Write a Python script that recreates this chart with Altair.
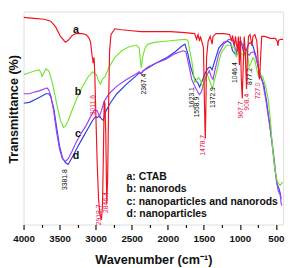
import altair as alt
import pandas as pd

# ---------------- data ----------------
X_TICKS = [4000, 3750, 3500, 3250, 3000, 2750, 2500, 2250, 2000, 1750,
           1500, 1250, 1000, 750, 500]

# a: CTAB (red)
a_wn = [4000, 3852, 3717, 3623, 3555, 3488, 3420, 3380, 3326, 3272,
        3191, 3137, 3097, 3070, 3050, 3035, 3022, 3012, 2998, 2980,
        2960, 2940, 2919, 2905, 2892, 2882, 2872, 2860, 2846, 2834,
        2820, 2807, 2787, 2733, 2639, 2504, 2369, 2167, 1964, 1762,
        1627, 1601, 1580, 1560, 1547, 1505, 1492, 1484, 1479, 1472,
        1462, 1440, 1412, 1385, 1372, 1331, 1223, 1142, 1115, 1102,
        1075, 1061, 1034, 1021, 1007, 994, 980, 967, 953, 940,
        926, 908, 895, 880, 859, 832, 819, 792, 765, 751,
        738, 727, 711, 697, 657, 576, 509, 482, 472, 462,
        428, 400]
a_t = [217, 216, 215, 213, 207, 197, 191, 193, 198, 200,
       200, 199, 196, 191, 177, 169, 175, 157, 117, 67,
       27, 10, 5, 22, 77, 129, 127, 97, 22, 47,
       127, 182, 199, 205, 204, 203, 202, 202, 202, 201,
       200, 194, 199, 192, 197, 185, 130, 100, 90, 120,
       175, 192, 197, 189, 197, 200, 200, 199, 192, 198,
       187, 197, 182, 197, 167, 197, 152, 132, 167, 197,
       182, 142, 177, 197, 199, 187, 197, 199, 192, 177,
       157, 152, 177, 197, 197, 195, 195, 192, 187, 193,
       194, 194]

# b: nanorods (green)
b_wn = [4000, 3919, 3838, 3784, 3757, 3744, 3717, 3690, 3650, 3609,
        3569, 3528, 3488, 3447, 3420, 3380, 3326, 3245, 3178, 3110,
        3043, 2989, 2962, 2935, 2908, 2868, 2814, 2733, 2639, 2544,
        2436, 2396, 2380, 2367, 2350, 2315, 2275, 2167, 2032, 1897,
        1762, 1722, 1695, 1668, 1641, 1627, 1601, 1574, 1547, 1520,
        1493, 1466, 1439, 1412, 1385, 1372, 1317, 1264, 1183, 1115,
        1075, 1048, 1021, 980, 940, 913, 886, 873, 846, 819,
        792, 765, 738, 711, 684, 643, 603, 576, 549, 522,
        495, 468, 441, 414, 400]
b_t = [157, 159, 161, 162, 159, 155, 159, 163, 161, 151,
       137, 122, 109, 102, 103, 109, 120, 135, 145, 154,
       160, 157, 151, 147, 152, 155, 165, 175, 182, 186,
       188, 185, 172, 164, 175, 185, 189, 191, 192, 193,
       194, 193, 182, 172, 157, 149, 151, 154, 151, 145,
       149, 157, 155, 149, 143, 145, 162, 179, 188, 187,
       185, 175, 182, 179, 177, 181, 175, 165, 169, 175,
       172, 162, 155, 157, 155, 145, 129, 109, 82, 62,
       49, 43, 41, 44, 44]

# c: nanoparticles and nanorods (purple)
c_wn = [4000, 3919, 3838, 3784, 3717, 3676, 3650, 3623, 3582, 3542,
        3501, 3461, 3420, 3380, 3326, 3272, 3205, 3137, 3070, 3016,
        2976, 2949, 2922, 2881, 2814, 2706, 2571, 2436, 2396, 2369,
        2342, 2275, 2167, 2032, 1897, 1789, 1749, 1708, 1668, 1627,
        1587, 1560, 1533, 1506, 1466, 1425, 1398, 1372, 1345, 1291,
        1223, 1156, 1102, 1075, 1048, 1021, 980, 940, 913, 873,
        846, 805, 778, 751, 724, 684, 643, 603, 563, 522,
        495, 468, 441, 428, 414]
c_t = [137, 137, 139, 140, 142, 143, 141, 135, 119, 97,
       79, 69, 66, 69, 77, 86, 95, 103, 113, 120,
       119, 113, 119, 129, 137, 145, 152, 158, 160, 158,
       161, 165, 169, 173, 179, 182, 181, 167, 152, 145,
       139, 136, 139, 147, 155, 161, 155, 152, 162, 179,
       189, 194, 193, 187, 180, 187, 190, 187, 182, 177,
       180, 181, 175, 167, 157, 149, 132, 112, 92, 67,
       47, 35, 31, 22, 20]

# d: nanoparticles (blue)
d_wn = [4000, 3919, 3838, 3757, 3690, 3650, 3623, 3582, 3542, 3501,
        3461, 3420, 3382, 3366, 3313, 3245, 3178, 3110, 3043, 3003,
        2976, 2949, 2922, 2895, 2868, 2800, 2706, 2571, 2436, 2396,
        2369, 2342, 2275, 2167, 2032, 1897, 1803, 1762, 1722, 1682,
        1641, 1601, 1580, 1558, 1520, 1479, 1439, 1412, 1385, 1358,
        1291, 1223, 1169, 1129, 1102, 1046, 1034, 1005, 985, 953,
        926, 899, 873, 846, 819, 778, 751, 711, 670, 630,
        590, 549, 509, 482, 455, 441, 428]
d_t = [127, 128, 131, 134, 137, 137, 134, 122, 102, 82,
       70, 65, 63, 65, 72, 82, 91, 100, 109, 113,
       112, 114, 111, 109, 117, 127, 137, 147, 156, 159,
       158, 161, 164, 169, 174, 181, 187, 189, 179, 165,
       155, 150, 148, 144, 151, 159, 164, 165, 162, 169,
       185, 191, 192, 190, 182, 177, 185, 191, 192, 182,
       177, 185, 190, 190, 187, 177, 167, 155, 147, 129,
       107, 82, 55, 42, 37, 33, 27]

SERIES_COLORS = {"d": "#2a40e0", "c": "#a040f2", "b": "#72e632", "a": "#f0141e"}

# peak annotations
peak_labels = ["3381.8", "3011.6", "2918.7", "2846.4", "2367.4", "1623.1", "1558.9",
               "1478.7", "1372.9", "1046.4", "967.7", "908.4", "877.2", "727.0"]
peak_wn = [3420, 3030, 2949, 2854, 2328, 1668, 1587, 1506, 1372, 1061, 980, 899, 859, 751]
peak_t = [47, 125, 10, 23, 147, 133, 123, 83, 133, 159, 120, 128, 155, 140]
peak_col = ["#111111", "#e8204f", "#e8204f", "#e8204f", "#111111", "#111111", "#111111",
            "#e8204f", "#111111", "#111111", "#e8204f", "#e8204f", "#111111", "#e8204f"]

# curve letters
letter_text = ["a", "b", "c", "d"]
letter_wn = [3272, 3245, 3245, 3272]
letter_t = [204, 139, 95, 72]

# legend box text
legend_text = ["a: CTAB", "b: nanorods", "c: nanoparticles and nanorods", "d: nanoparticles"]
legend_wn = [2571, 2571, 2571, 2571]
legend_t = [50, 37, 24, 11]

# ---------------- chart ----------------
FONT = "Liberation Sans"

x_scale = alt.Scale(domain=[4000, 400], nice=False, zero=False)
y_scale = alt.Scale(domain=[0, 223], nice=False, zero=False)

X_ENC = alt.X(
    "wn:Q", scale=x_scale, title="Wavenumber   (cm⁻¹)",
    axis=alt.Axis(
        values=X_TICKS, format="d",
        labelExpr="datum.value % 500 === 0 ? datum.label : ''",
        labelOverlap=False, labelFlush=False,
        tickSize={"condition": {"test": "datum.value % 500 === 0", "value": 5}, "value": 3},
        tickColor="#111", tickWidth=1.2,
        labelFont=FONT, labelFontSize=10, labelFontWeight="bold", labelColor="#111",
        labelPadding=4,
        titleFont=FONT, titleFontSize=13, titleFontWeight="bold", titleColor="#111",
        titlePadding=11, domain=False, grid=False,
    ),
)
Y_ENC = alt.Y(
    "t:Q", scale=y_scale, title="Transmittance  (%)",
    axis=alt.Axis(
        labels=False, ticks=False, domain=False, grid=False,
        titleFont=FONT, titleFontSize=13, titleFontWeight="bold", titleColor="#111",
        titlePadding=3, titleY=100,
    ),
)

layers = []
for key, wn, t in [("d", d_wn, d_t), ("c", c_wn, c_t), ("b", b_wn, b_t), ("a", a_wn, a_t)]:
    df = pd.DataFrame({"wn": wn, "t": t})
    layers.append(
        alt.Chart(df).mark_line(strokeWidth=1.2, color=SERIES_COLORS[key], clip=True)
        .encode(x=X_ENC, y=Y_ENC)
    )

peaks_df = pd.DataFrame({"wn": peak_wn, "t": peak_t, "label": peak_labels, "col": peak_col})
peaks = alt.Chart(peaks_df).mark_text(angle=270, font=FONT, fontSize=7, baseline="middle",
                                      align="center").encode(
    x=X_ENC, y=Y_ENC, text="label:N", color=alt.Color("col:N", scale=None))

letters_df = pd.DataFrame({"wn": letter_wn, "t": letter_t, "label": letter_text})
letters = alt.Chart(letters_df).mark_text(font=FONT, fontSize=11, fontWeight="bold",
                                          color="#111", baseline="middle").encode(
    x=X_ENC, y=Y_ENC, text="label:N")

legend_df = pd.DataFrame({"wn": legend_wn, "t": legend_t, "label": legend_text})
legend = alt.Chart(legend_df).mark_text(font=FONT, fontSize=10.7, fontWeight="bold",
                                        color="#111", align="left", baseline="middle").encode(
    x=X_ENC, y=Y_ENC, text="label:N")

chart = alt.layer(*layers, peaks, letters, legend).properties(
    width=267, height=219,
    autosize=alt.AutoSizeParams(type="none"),
    padding={"left": 16, "top": 0, "right": 5, "bottom": 41},
).configure_view(stroke="#111", strokeWidth=1.3).configure(background="white")

chart.save("out.html", embed_options={"renderer": "svg", "actions": False})
